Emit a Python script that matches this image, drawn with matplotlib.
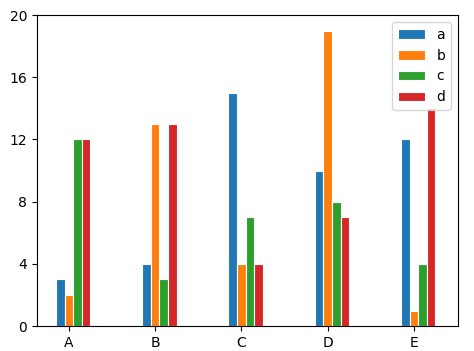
import numpy as np
import matplotlib as mpl
mpl.use('Agg')
import matplotlib.pyplot as plt

categories = ['A', 'B', 'C', 'D', 'E']
series_names = ['a', 'b', 'c', 'd']
a_vals = [3, 4, 15, 10, 12]
b_vals = [2, 13, 4, 19, 1]
c_vals = [12, 3, 7, 8, 4]
d_vals = [12, 13, 4, 7, 14]
yticks = [0, 4, 8, 12, 16, 20]

fig = plt.figure(figsize=(4.74, 3.51), dpi=100)
ax = fig.add_axes([0.078, 0.071, 0.888, 0.886])

x = np.arange(len(categories))
width = 0.1
for i, (name, vals) in enumerate(zip(series_names, [a_vals, b_vals, c_vals, d_vals])):
    ax.bar(x + (i - 1) * width, vals, width, label=name, edgecolor='white', linewidth=0.8)

ax.set_xticks(x)
ax.set_xticklabels(categories)
ax.set_xlim(-0.37, 4.51)
ax.set_yticks(yticks)
ax.set_ylim(0, 20)
ax.legend(loc='upper right')

fig.savefig('out.png', dpi=100)
